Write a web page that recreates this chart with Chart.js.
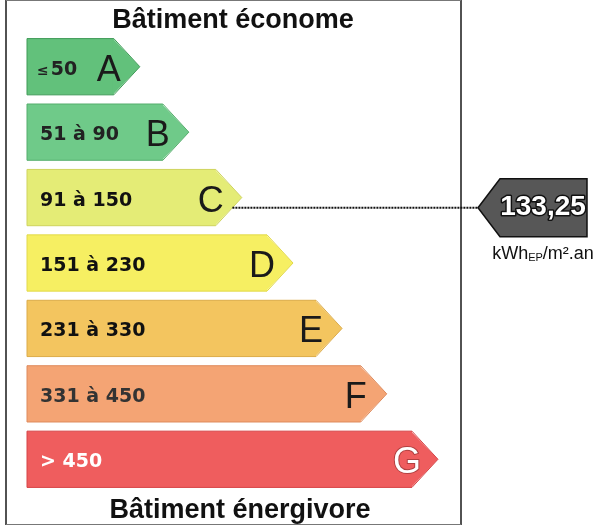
<!DOCTYPE html>
<html><head><meta charset="utf-8">
<script src="https://cdn.jsdelivr.net/npm/chart.js@4/dist/chart.umd.min.js"></script>
<style>html,body{margin:0;padding:0;background:#fff;}canvas{display:block}</style>
</head><body>
<canvas id="c" width="610" height="525"></canvas>
<script>
// ---- data ----
const classes = ['A', 'B', 'C', 'D', 'E', 'F', 'G'];
const rangeLabels = ['≤ 50', '51 à 90', '91 à 150', '151 à 230', '231 à 330', '331 à 450', '> 450'];
const classLower = [0, 51, 91, 151, 231, 331, 451];
const classUpper = [50, 90, 150, 230, 330, 450, 600];
const barLengths = [20, 31.3, 43.5, 55.3, 66.6, 76.9, 88.7];
const classColors = ['#62c17b', '#6fca89', '#e4ec76', '#f6ef62', '#f3c55f', '#f4a474', '#ef5d5e'];
const classEdges = ['#3f9b57', '#55ad6c', '#cfd35c', '#e2d94a', '#dcab48', '#de8a5c', '#d64446'];
const labelColors = ['#222', '#222', '#111', '#111', '#111', '#333', '#ffffff'];
const consumption = 133.25;
const consumptionText = '133,25';
const unitMain = 'kWh', unitSub = 'EP', unitTail = '/m².an';
const topTitle = 'Bâtiment économe';
const bottomTitle = 'Bâtiment énergivore';

const TIP = 26;

const dpePlugin = {
  id: 'dpe',
  beforeDraw(chart) {
    const ctx = chart.ctx;
    ctx.save();
    ctx.fillStyle = '#fff';
    ctx.fillRect(0, 0, chart.width, chart.height);
    ctx.restore();
  },
  afterDatasetsDraw(chart) {
    const ctx = chart.ctx;
    const meta = chart.getDatasetMeta(0);
    meta.data.forEach((bar, i) => {
      const p = bar.getProps(['x', 'y', 'base', 'height'], true);
      const h2 = p.height / 2;
      ctx.save();
      ctx.beginPath();
      ctx.moveTo(p.x - 1, p.y - h2);
      ctx.lineTo(p.x + TIP, p.y);
      ctx.lineTo(p.x - 1, p.y + h2);
      ctx.closePath();
      ctx.fillStyle = classColors[i];
      ctx.fill();
      ctx.beginPath();
      ctx.moveTo(p.base, p.y - h2);
      ctx.lineTo(p.x, p.y - h2);
      ctx.lineTo(p.x + TIP, p.y);
      ctx.lineTo(p.x, p.y + h2);
      ctx.lineTo(p.base, p.y + h2);
      ctx.closePath();
      ctx.strokeStyle = classEdges[i];
      ctx.lineWidth = 1;
      ctx.stroke();
      // range label
      ctx.fillStyle = labelColors[i];
      ctx.textAlign = 'left';
      ctx.textBaseline = 'alphabetic';
      const lbl = rangeLabels[i];
      let tx = p.base + 13;
      if (lbl.startsWith('≤')) {
        ctx.font = 'bold 14px "DejaVu Sans"';
        ctx.fillText('≤', tx - 3, p.y + 8);
        tx += ctx.measureText('≤').width - 1;
        ctx.font = 'bold 19px "DejaVu Sans"';
        ctx.fillText(lbl.slice(1).trim(), tx, p.y + 8);
      } else {
        ctx.font = 'bold 19px "DejaVu Sans"';
        ctx.fillText(lbl, tx, p.y + 8);
      }
      // class letter
      ctx.font = '36px "Liberation Sans"';
      ctx.textAlign = 'center';
      const lx = p.x + TIP - 31, ly = p.y + 14;
      if (i === classes.length - 1) {
        ctx.lineWidth = 2;
        ctx.strokeStyle = '#b04040';
        ctx.strokeText(classes[i], lx, ly);
        ctx.fillStyle = '#fff';
      } else {
        ctx.fillStyle = '#1a1a1a';
      }
      ctx.fillText(classes[i], lx, ly);
      ctx.restore();
    });
  },
  afterDraw(chart) {
    const ctx = chart.ctx;
    const meta = chart.getDatasetMeta(0);
    ctx.save();
    // frame
    ctx.strokeStyle = '#1a1a1a';
    ctx.lineWidth = 1.5;
    ctx.beginPath();
    ctx.moveTo(6, 0); ctx.lineTo(6, 525);
    ctx.moveTo(461, 0); ctx.lineTo(461, 525);
    ctx.stroke();
    ctx.strokeStyle = '#777';
    ctx.lineWidth = 1;
    ctx.beginPath();
    ctx.moveTo(6, 0.5); ctx.lineTo(461, 0.5);
    ctx.moveTo(6, 524.5); ctx.lineTo(461, 524.5);
    ctx.stroke();

    // titles
    ctx.fillStyle = '#111';
    ctx.font = 'bold 27px "Liberation Sans"';
    ctx.textAlign = 'center';
    ctx.textBaseline = 'alphabetic';
    ctx.fillText(topTitle, 233, 28);
    ctx.fillText(bottomTitle, 240, 518);

    // value marker
    let ci = classes.length - 1;
    for (let k = 0; k < classes.length; k++) {
      if (consumption >= classLower[k] && consumption <= classUpper[k]) { ci = k; break; }
    }
    const bar = meta.data[ci].getProps(['x', 'y', 'height'], true);
    const frac = (consumption - classLower[ci]) / (classUpper[ci] - classLower[ci]);
    const top = bar.y - bar.height / 2;
    const yv = top + frac * bar.height - 2;
    const startX = bar.x + TIP * (1 - Math.abs(yv - bar.y) / (bar.height / 2));
    const tipX = 478, bodyL = 500, bodyR = 587, halfH = 29;
    ctx.strokeStyle = '#111';
    ctx.lineWidth = 2;
    ctx.setLineDash([2, 1]);
    ctx.beginPath();
    ctx.moveTo(startX, yv); ctx.lineTo(tipX, yv);
    ctx.stroke();
    ctx.setLineDash([]);

    ctx.beginPath();
    ctx.moveTo(tipX, yv);
    ctx.lineTo(bodyL, yv - halfH);
    ctx.lineTo(bodyR, yv - halfH);
    ctx.lineTo(bodyR, yv + halfH);
    ctx.lineTo(bodyL, yv + halfH);
    ctx.closePath();
    ctx.fillStyle = '#575757';
    ctx.fill();
    ctx.strokeStyle = '#111';
    ctx.lineWidth = 1.5;
    ctx.stroke();

    ctx.font = 'bold 28px "Liberation Sans"';
    ctx.textAlign = 'center';
    ctx.lineWidth = 3;
    ctx.strokeStyle = '#111';
    ctx.lineJoin = 'round';
    ctx.strokeText(consumptionText, 543, yv + 7);
    ctx.fillStyle = '#fff';
    ctx.fillText(consumptionText, 543, yv + 7);

    // unit
    ctx.fillStyle = '#111';
    ctx.textAlign = 'left';
    const fMain = '18px "Liberation Sans"', fSub = '11px "Liberation Sans"';
    ctx.font = fMain;
    const w1 = ctx.measureText(unitMain).width;
    const w3 = ctx.measureText(unitTail).width;
    ctx.font = fSub;
    const w2 = ctx.measureText(unitSub).width;
    let ux = 543 - (w1 + w2 + w3) / 2;
    const uy = yv + 51;
    ctx.font = fMain; ctx.fillText(unitMain, ux, uy); ux += w1;
    ctx.font = fSub; ctx.fillText(unitSub, ux, uy + 2); ux += w2;
    ctx.font = fMain; ctx.fillText(unitTail, ux, uy);
    ctx.restore();
  }
};

new Chart(document.getElementById('c'), {
  type: 'bar',
  data: {
    labels: classes,
    datasets: [{
      data: barLengths,
      backgroundColor: classColors,
      borderWidth: 0,
      barPercentage: 0.86,
      categoryPercentage: 1
    }]
  },
  options: {
    indexAxis: 'y',
    responsive: false,
    devicePixelRatio: 1,
    animation: false,
    layout: { padding: { left: 27, right: 149, top: 34, bottom: 33 } },
    scales: {
      x: { type: 'linear', min: 0, max: 100, display: false },
      y: { type: 'category', display: false, offset: true }
    },
    plugins: { legend: { display: false }, tooltip: { enabled: false }, title: { display: false } }
  },
  plugins: [dpePlugin]
});
</script>
</body></html>
